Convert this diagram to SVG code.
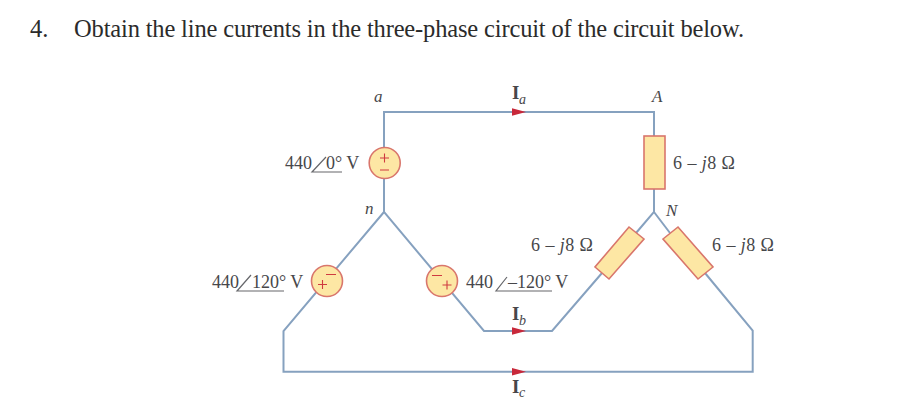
<svg xmlns="http://www.w3.org/2000/svg" width="922" height="419" viewBox="0 0 922 419">
<style>
text{font-family:"Liberation Serif","Times New Roman",serif;fill:#47474a}
.h{font-size:24.500px;fill:#2b2b2b}
.t{font-size:18px}
.i{font-style:italic;font-size:17px}
.b{font-weight:bold;font-size:19px}
.s{font-style:italic;font-size:14px}
.w{fill:none;stroke:#86a1bf;stroke-width:2}
.el{fill:#fde7a4;stroke:#d9766c;stroke-width:1.6}
.sg{fill:none;stroke:#cf3a40;stroke-width:1.100}
.ang{fill:none;stroke:#66676b;stroke-width:1.200}
.ar{fill:#c8283a}
</style>
<rect width="922" height="419" fill="#fff"/>
<text class="h" x="30" y="37">4.</text>
<text class="h" x="74" y="37" textLength="670" lengthAdjust="spacing">Obtain the line currents in the three-phase circuit of the circuit below.</text>
<g id="connectors">
<path class="w" d="M384 147V112H654V136"/>
<path class="w" d="M384 179V212L484 331H552L602 273"/>
<path class="w" d="M384 212L283.500 331V371.700H752.700V330.700L705 273"/>
<path class="w" d="M654 189V212L636 233M654 212L670 233"/>
<path class="ar" d="M512 108.300L526 112L512 115.700Z"/>
<path class="ar" d="M512 327.300L526 331L512 334.700Z"/>
<path class="ar" d="M512 368L526 371.700L512 375.400Z"/>
</g>
<g id="source-a">
<circle class="el" cx="384.700" cy="163" r="15.500"/>
<path class="sg" d="M380 158H389M384.500 153.500V162.500M380 170H389"/>
<text class="t" x="285" y="169">440</text>
<path class="ang" d="M326 157L312 172H342"/>
<text class="t" x="326" y="169">0° V</text>
</g>
<g id="source-b">
<circle class="el" cx="327" cy="281" r="15.500"/>
<path class="sg" d="M326 274.500H336M318 284.500H327M322.500 280V289"/>
<text class="t" x="212" y="288">440</text>
<path class="ang" d="M251 275L237 291H284"/>
<text class="t" x="252" y="288">120° V</text>
</g>
<g id="source-c">
<circle class="el" cx="442" cy="281" r="15.500"/>
<path class="sg" d="M432 275.500H442M442.500 285H451.500M447 280.500V289.500"/>
<text class="t" x="466" y="288">440</text>
<path class="ang" d="M507 277L496 291H552"/>
<text class="t" x="508" y="288">–120° V</text>
</g>
<g id="load-a">
<rect class="el" x="644" y="136" width="21" height="53"/>
<text class="t" x="673" y="169" textLength="62">6 – <tspan font-style="italic">j</tspan>8 Ω</text>
</g>
<g id="load-b">
<path class="el" d="M629 227L644 239L609 279L595 267Z"/>
<text class="t" x="531" y="251" textLength="62">6 – <tspan font-style="italic">j</tspan>8 Ω</text>
</g>
<g id="load-c">
<path class="el" d="M678 227L663 239L698 279L713 267Z"/>
<text class="t" x="712" y="251" textLength="62">6 – <tspan font-style="italic">j</tspan>8 Ω</text>
</g>
<g id="labels">
<text class="i" x="374" y="102">a</text>
<text class="i" x="365" y="214">n</text>
<text class="i" x="652" y="102">A</text>
<text class="i" x="666" y="216">N</text>
<text class="b" x="512" y="99">I</text><text class="s" x="519" y="104">a</text>
<text class="b" x="512" y="320">I</text><text class="s" x="519" y="325">b</text>
<text class="b" x="512" y="393">I</text><text class="s" x="519" y="397">c</text>
</g>
</svg>
